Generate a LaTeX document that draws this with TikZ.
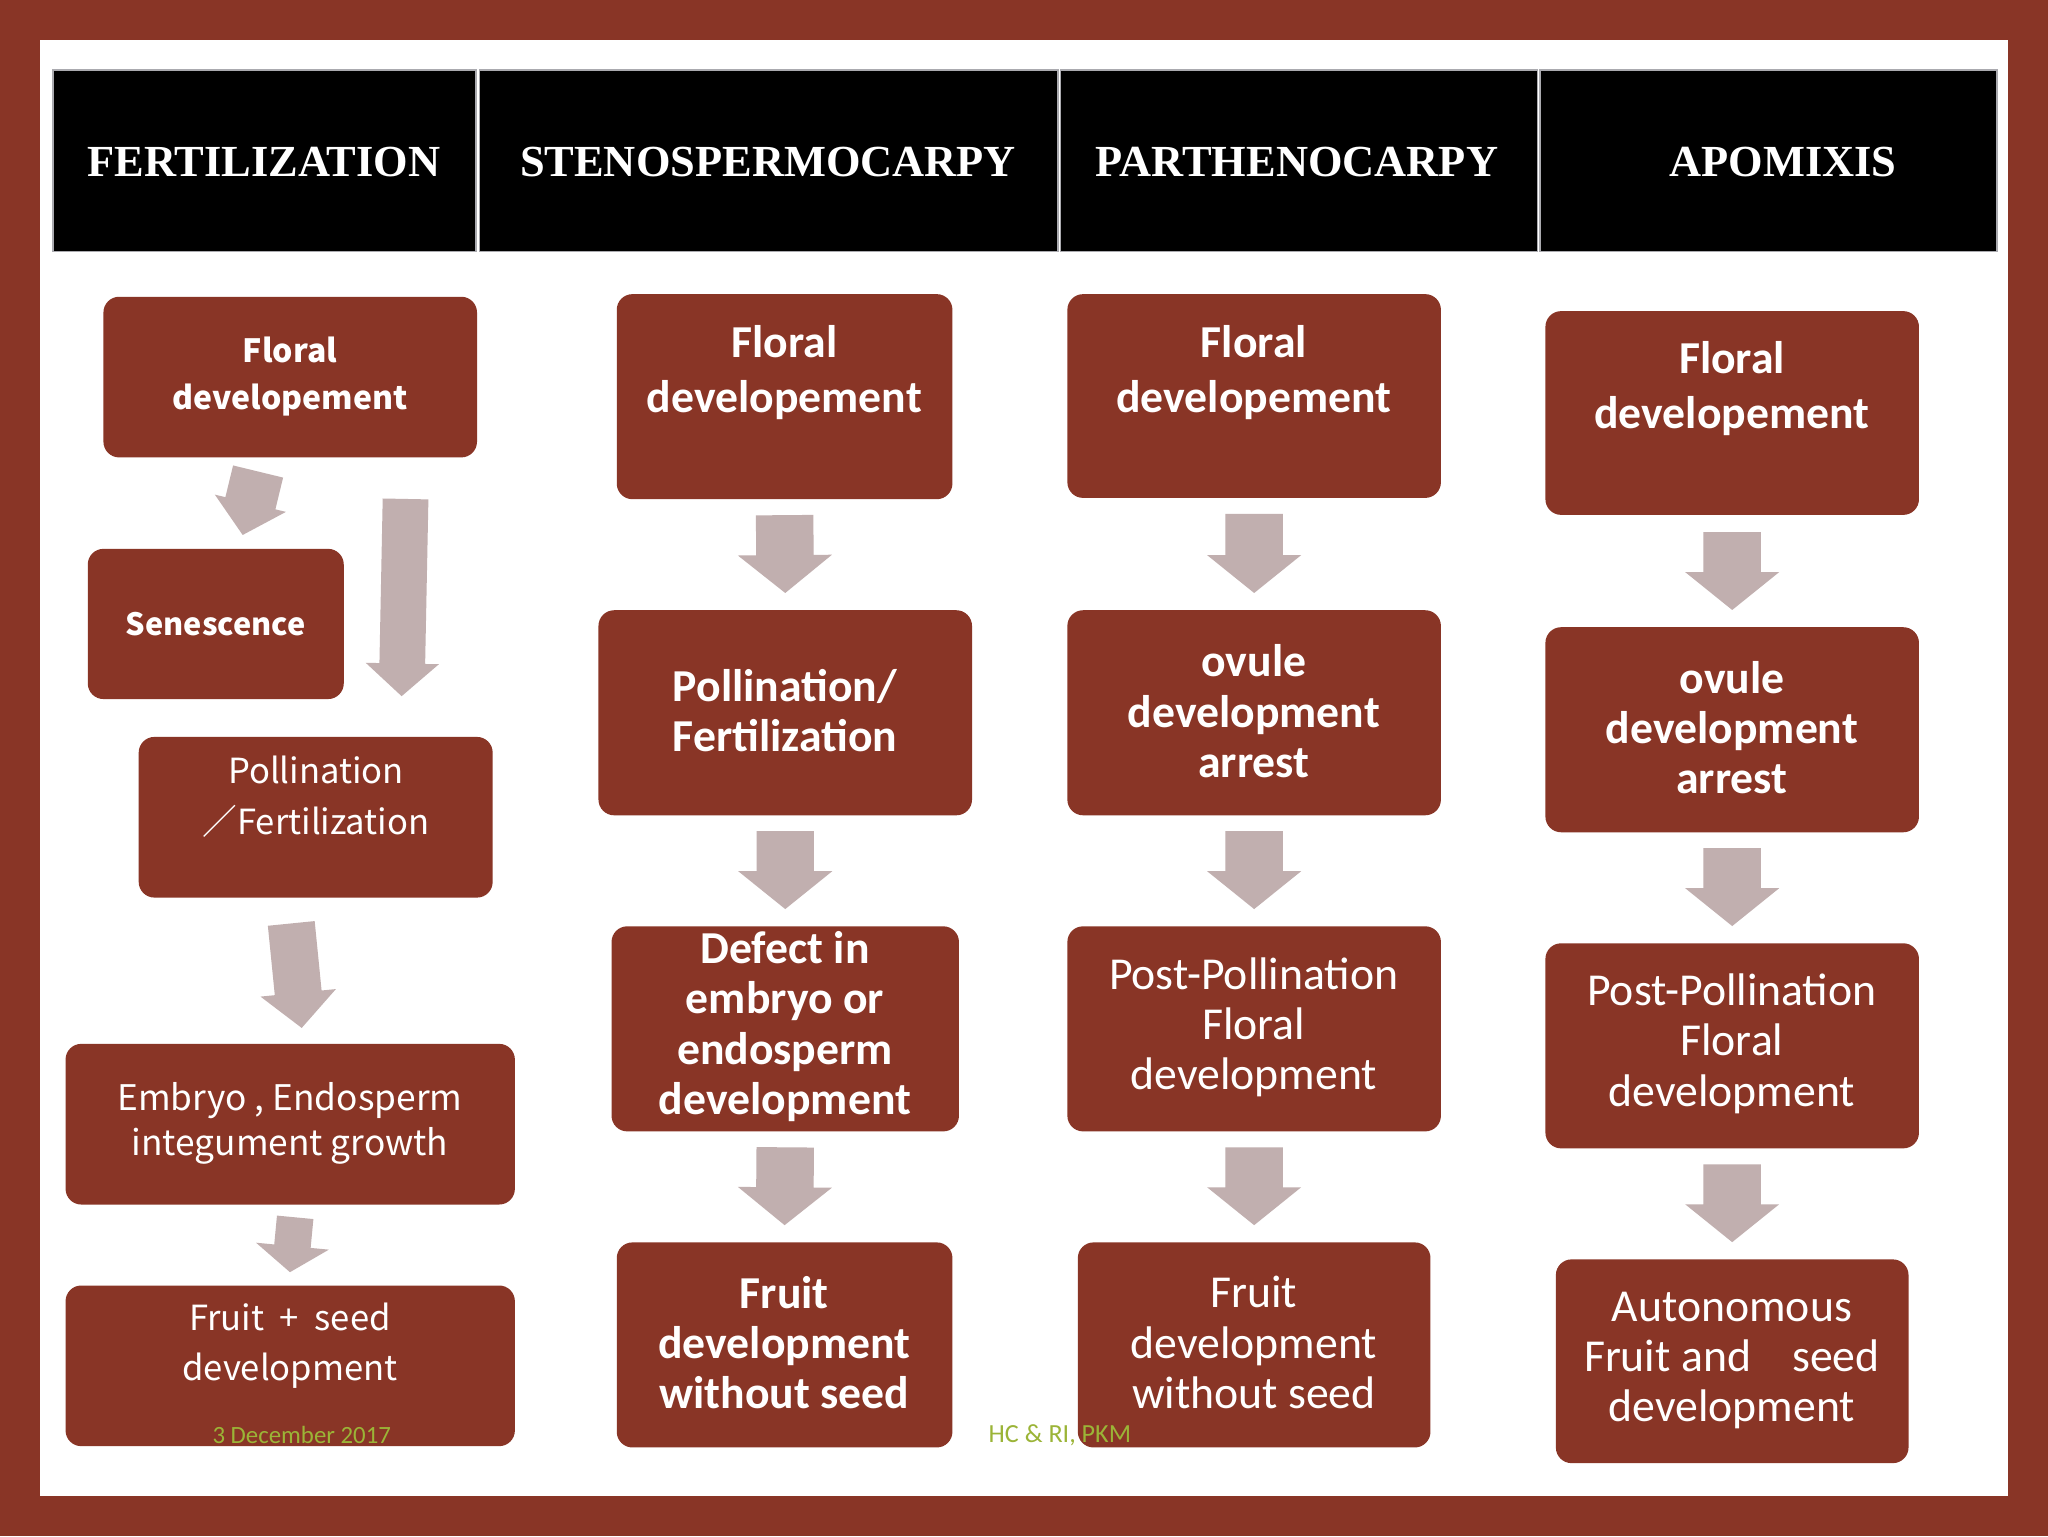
\documentclass[tikz,border=0pt]{standalone}
\usepackage{fontspec}
\setmainfont{Carlito}
\newfontfamily\hdfont{Liberation Serif}
\newfontfamily\jpfont{Noto Sans CJK JP}
\usetikzlibrary{calc}
\definecolor{brn}{RGB}{137,53,38}
\definecolor{arrcol}{RGB}{193,175,175}
\definecolor{grn}{RGB}{155,180,55}
\definecolor{hdline}{RGB}{170,170,175}
\tikzset{
  box/.style={fill=brn, rounded corners=12pt, draw=none, inner sep=0pt, anchor=north west},
  hdcell/.style={fill=black, draw=hdline, line width=1pt, inner sep=0pt, anchor=north west, minimum height=139pt},
  hdtxt/.style={text=white, inner sep=0pt, font=\hdfont\bfseries\fontsize{34}{40}\selectfont},
  bt/.style={text=white, inner sep=0pt, align=center, font=\bfseries\fontsize{35}{38.5}\selectfont},
  btf/.style={text=white, inner sep=0pt, align=center, font=\bfseries\fontsize{35}{42}\selectfont},
  rt/.style={text=white, inner sep=0pt, align=center, font=\fontsize{35}{38.5}\selectfont},
  jb/.style={text=white, inner sep=0pt, align=center, font=\jpfont\bfseries\fontsize{24.5}{36}\selectfont},
  jr/.style={text=white, inner sep=0pt, align=center, font=\jpfont\fontsize{26.5}{38.5}\selectfont},
  foot/.style={text=grn, inner sep=0pt, font=\fontsize{20}{24}\selectfont},
}
% block arrow: start, end, shaft half width, head half width, head length
\newcommand{\barr}[5]{%
  \fill[arrcol] let \p1=(#1), \p2=(#2),
      \n1={atan2(\y2-\y1,\x2-\x1)}, \n2={veclen(\x2-\x1,\y2-\y1)}, \n3={\n2-#5} in
    ([shift={(\p1)},rotate=\n1]0,#3) -- ([shift={(\p1)},rotate=\n1]\n3,#3)
    -- ([shift={(\p1)},rotate=\n1]\n3,#4) -- ([shift={(\p1)},rotate=\n1]\n2,0)
    -- ([shift={(\p1)},rotate=\n1]\n3,-#4) -- ([shift={(\p1)},rotate=\n1]\n3,-#3)
    -- ([shift={(\p1)},rotate=\n1]0,-#3) -- cycle;}
\begin{document}
\begin{tikzpicture}[x=1pt,y=-1pt]
\useasboundingbox (0,0) rectangle (1568,1176);
\fill[brn] (0,0) rectangle (1568,1176);
\fill[white] (31,31) rectangle (1537,1145);
% header
\node[hdcell, minimum width=324pt] (h1) at (40,53) {};
\node[hdcell, minimum width=443pt] (h2) at (366.5,53) {};
\node[hdcell, minimum width=365pt] (h3) at (811.5,53) {};
\node[hdcell, minimum width=350pt] (h4) at (1178.5,53) {};
\node[hdtxt] (ht1) at (202,124) {FERTILIZATION};
\node[hdtxt] (ht2) at (588,124) {STENOSPERMOCARPY};
\node[hdtxt] (ht3) at (993,124) {PARTHENOCARPY};
\node[hdtxt] (ht4) at (1365,124) {APOMIXIS};
% column 1 boxes
\node[box, minimum width=286pt, minimum height=123pt] (c11) at (79,227) {};
\node[box, minimum width=196pt, minimum height=115pt] (c12) at (67,420) {};
\node[box, minimum width=271pt, minimum height=123pt] (c13) at (106,564) {};
\node[box, minimum width=344pt, minimum height=123pt] (c14) at (50,799) {};
\node[box, minimum width=344pt, minimum height=123pt] (c15) at (50,984) {};
% column 2 boxes
\node[box, minimum width=257pt, minimum height=157pt] (c21) at (472,225) {};
\node[box, minimum width=286pt, minimum height=157pt] (c22) at (458,467) {};
\node[box, minimum width=266pt, minimum height=157pt] (c23) at (468,709) {};
\node[box, minimum width=257pt, minimum height=157pt] (c24) at (472,951) {};
% column 3 boxes
\node[box, minimum width=286pt, minimum height=156pt] (c31) at (817,225) {};
\node[box, minimum width=286pt, minimum height=157pt] (c32) at (817,467) {};
\node[box, minimum width=286pt, minimum height=157pt] (c33) at (817,709) {};
\node[box, minimum width=270pt, minimum height=157pt] (c34) at (825,951) {};
% column 4 boxes
\node[box, minimum width=286pt, minimum height=156pt] (c41) at (1183,238) {};
\node[box, minimum width=286pt, minimum height=157pt] (c42) at (1183,480) {};
\node[box, minimum width=286pt, minimum height=157pt] (c43) at (1183,722) {};
\node[box, minimum width=270pt, minimum height=156pt] (c44) at (1191,964) {};
% arrow end points
\coordinate (a1s) at (197.6,361); \coordinate (a1e) at (185.8,409.6);
\coordinate (a2s) at (310.5,382); \coordinate (a2e) at (307.5,533);
\coordinate (a3s) at (223,707);   \coordinate (a3e) at (231,787);
\coordinate (a4s) at (226,932);   \coordinate (a4e) at (222,974);
\barr{a1s}{a1e}{19.7}{28}{25}
\barr{a2s}{a2e}{17.5}{28}{25}
\barr{a3s}{a3e}{18}{29}{27}
\barr{a4s}{a4e}{14}{28}{20}
\foreach \c in {2,3} {
  \coordinate (b\c1s) at ($(c\c1.south)+(0,12)$); \coordinate (b\c1e) at ($(c\c2.north)+(0,-13)$);
  \coordinate (b\c2s) at ($(c\c2.south)+(0,12)$); \coordinate (b\c2e) at ($(c\c3.north)+(0,-13)$);
  \coordinate (b\c3s) at ($(c\c3.south)+(0,12)$); \coordinate (b\c3e) at ($(c\c4.north)+(0,-13)$);
}
\coordinate (b41s) at ($(c41.south)+(0,13)$); \coordinate (b41e) at ($(c42.north)+(0,-13)$);
\coordinate (b42s) at ($(c42.south)+(0,12)$); \coordinate (b42e) at ($(c43.north)+(0,-13)$);
\coordinate (b43s) at ($(c43.south)+(0,12)$); \coordinate (b43e) at ($(c44.north)+(0,-13)$);
\foreach \c in {2,3,4} {
  \foreach \k in {1,2,3} { \barr{b\c\k s}{b\c\k e}{22}{36}{29} }
}
% column 1 texts
\node[jb] (t11) at (222,288) {Floral\\developement};
\node[jb, font=\jpfont\bfseries\fontsize{23.5}{30}\selectfont] (t12) at (165,478) {Senescence};
\node[jr] (t13) at (242,610) {Pollination\\／Fertilization};
\node[jr, font=\jpfont\fontsize{27}{35}\selectfont] (t14) at (222,860) {Embryo , Endosperm\\integument growth};
\node[jr] (t15) at (222,1030) {Fruit\ \ +\ \ seed\\development};
% column 2 texts
\node[btf] (t21) at (600.5,285) {Floral\\developement};
\node[bt] (t22) at (601,544) {Pollination/\\Fertilization};
\node[bt] (t23) at (601,786) {Defect in\\embryo or\\endosperm\\development};
\node[bt] (t24) at (600.5,1028) {Fruit\\development\\without seed};
% column 3 texts
\node[btf] (t31) at (960,285) {Floral\\developement};
\node[bt] (t32) at (960,544.5) {ovule\\development\\arrest};
\node[rt] (t33) at (960,786.5) {Post-Pollination\\Floral\\development};
\node[rt] (t34) at (960,1028) {Fruit\\development\\without seed};
% column 4 texts
\node[btf] (t41) at (1326,297.5) {Floral\\developement};
\node[bt] (t42) at (1326,557) {ovule\\development\\arrest};
\node[rt] (t43) at (1326,799) {Post-Pollination\\Floral\\development};
\node[rt] (t44) at (1326,1041.5) {Autonomous\\Fruit and\ \ \ \ seed\\development};
% footer
\node[foot, font=\fontsize{19}{23}\selectfont] (date) at (231,1099) {3 December 2017};
\node[foot] (inst) at (811.5,1099) {HC \& RI, PKM};
\end{tikzpicture}
\end{document}
